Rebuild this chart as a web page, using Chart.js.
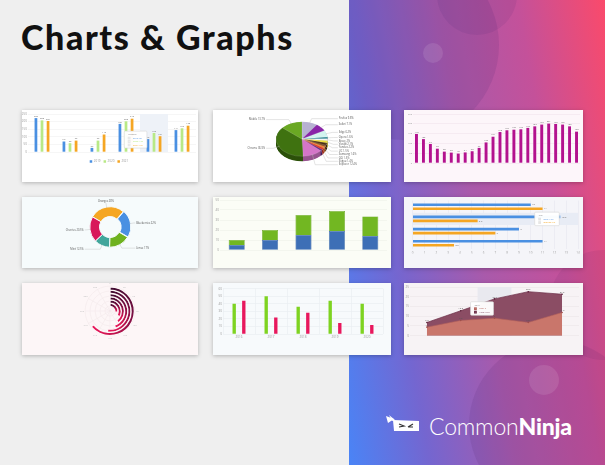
<!DOCTYPE html>
<html>
<head>
<meta charset="utf-8">
<title>Charts &amp; Graphs</title>
<script src="https://cdn.jsdelivr.net/npm/chart.js@4.4.1/dist/chart.umd.min.js"></script>
<style>
    html, body { margin: 0; padding: 0; }
    body { position: relative; width: 605px; height: 465px; overflow: hidden; background: #efefef; }
    #bgRight { position: absolute; left: 349px; top: 0; width: 256px; height: 465px; overflow: hidden;
        background: linear-gradient(80deg, #4a84f6 0%, #7466d0 24%, #a95aab 50%, #c4519a 74%, #fa4a6b 100%); }
    .blob { position: absolute; border-radius: 50%; }
    #title { position: absolute; left: 21px; top: 20px; font: 900 34px Lato, sans-serif; letter-spacing: 1.6px; line-height: 1; color: #111; white-space: nowrap; }
    .card { position: absolute; box-shadow: 0 1px 4px rgba(0, 0, 0, 0.25); }
    .card canvas { position: absolute; left: 0; top: 0; }
    #logo { position: absolute; left: 429px; top: 415px; font: 300 23px Lato, sans-serif; letter-spacing: -0.2px; line-height: 1; color: #fff; white-space: nowrap; }
    #logo b { font-weight: 900; }
    #ninja { position: absolute; left: 386px; top: 415px; }
</style>
</head>
<body>
<div id="bgRight">
    <div class="blob" style="left:-40px;top:-50px;width:190px;height:190px;background:rgba(40,20,100,0.10)"></div>
    <div class="blob" style="left:88px;top:-45px;width:80px;height:80px;background:rgba(40,20,100,0.08)"></div>
    <div class="blob" style="left:74px;top:43px;width:20px;height:20px;background:rgba(255,255,255,0.10)"></div>
    <div class="blob" style="left:120px;top:340px;width:170px;height:170px;background:rgba(60,20,90,0.10)"></div>
    <div class="blob" style="left:180px;top:365px;width:30px;height:30px;background:rgba(255,255,255,0.10)"></div>
    <div class="blob" style="left:200px;top:250px;width:110px;height:110px;background:rgba(60,20,90,0.08)"></div>
</div>
<div id="title">Charts &amp; Graphs</div>
<svg id="ninja" width="34" height="17" viewBox="0 0 34 17">
    <polygon points="0,1 8,4 2,8" fill="#fff"/>
    <polygon points="3,0 9,5 6,6" fill="#fff"/>
    <polygon points="7,5 33,6 33,16 8,16" fill="#fff"/>
    <path d="M13 9 L18 11 L13 12 M22 12 L27 9 M22 12 L27 12" stroke="#333" stroke-width="1.2" fill="none"/>
</svg>
<div id="logo">Common<b>Ninja</b></div>
<script>
//---------
//Data
//---------

//Grouped bars - devices by year
const devLabels = ["Desktop", "Tablet", "Smart TV", "Phone", "Console", "Laptop"];
const devSeries = ["2019", "2020", "2021"];
const dev2019 = [223, 69, 27, 185, 85, 144];
const dev2020 = [208, 58, 75, 202, 125, 156];
const dev2021 = [204, 75, 115, 219, 104, 173];
const devTicks = [0, 50, 100, 150, 200, 250];

//3D pie - browser share
const shareNames = ["Firefox", "Safari", "Edge", "Opera", "Brave", "Vivaldi", "Yandex", "UC", "Samsung", "QQ", "Sogou", "Explorer", "Chrome", "Mobile"];
const shareValues = [9.8, 7.1, 6.2, 1.6, 2.0, 2.1, 2.2, 1.5, 1.6, 1.5, 1.4, 12.4, 36.9, 13.7];
const shareColors = ["#b7b1d2", "#8a24a8", "#d3f4ef", "#2e8c9a", "#f4f4f4", "#efe03a", "#4a2e12", "#8b4a1a", "#f0802a", "#e02a20", "#5c2a86", "#d475c8", "#3f7210", "#6aa823"];

//Magenta bars - yearly values
const yearLabels = ["1996", "1997", "1998", "1999", "2000", "2001", "2002", "2003", "2004", "2005", "2006", "2007",
    "2008", "2009", "2010", "2011", "2012", "2013", "2014", "2015", "2016", "2017", "2018", "2019"];
const yearValues = [148, 122, 97, 73, 58, 53, 48, 54, 60, 77, 105, 134, 158, 167, 170, 172, 179, 187, 196, 201, 199, 196, 187, 160];
const yearTicks = [0, 50, 100, 150, 200, 250];

//Doughnut - fruit
const fruitNames = ["Oranges", "Blueberries", "Limes", "Mint", "Cherries"];
const fruitValues = [28, 22, 17, 12.5, 20.5];
const fruitColors = ["#f5a623", "#4a90e2", "#6fb21f", "#41a59b", "#d8185a"];

//Stacked bars
const stackLabels = ["2016", "2017", "2018", "2019", "2020"];
const stackBlue = [5, 10, 15, 19, 14];
const stackGreen = [5, 10, 20, 20, 19.5];
const stackTicks = [0, 10, 20, 30, 40, 50];

//Horizontal bars
const dayLabels = ["Mon", "Tue", "Wed", "Thu"];
const dayBlue = [10, 12.5, 9, 11];
const dayOrange = [11, 5.5, 7, 3.5];
const dayTicks = [0, 1, 2, 3, 4, 5, 6, 7, 8, 9, 10, 11, 12, 13, 14];

//Radial bars
const ringLabels = ["Team A", "Team B", "Team C", "Team D", "Team E", "Team F"];
const ringValues = [64, 52, 45, 40, 33, 27];
const ringMax = 100;
const ringAxis = ["0", "30", "60", "90", "120", "150", "180", "210", "240", "270", "300", "330"];

//Bar pairs
const pairLabels = ["2016", "2017", "2018", "2019", "2020"];
const pairGreen = [40, 50, 36, 44, 40];
const pairRed = [44, 22, 28, 14.5, 12];
const pairTicks = [0, 10, 20, 30, 40, 50, 60];

//Areas
const areaLabels = ["2016", "2017", "2018", "2019", "2020"];
const areaTop = [6.8, 12.8, 18.9, 22.6, 21.3];
const areaBottom = [4.4, 7.8, 9.0, 6.8, 11.9];
const areaTicks = [0, 5, 10, 15, 20, 25];

//---------
//Helpers
//---------

//Card with canvas
const makeCard = (x, y, w, h, bg) => {
    const card = document.createElement("div");
    card.className = "card";
    card.style.cssText = `left:${x}px;top:${y}px;width:${w}px;height:${h}px;background:${bg}`;
    const cnv = document.createElement("canvas");
    cnv.width = w;
    cnv.height = h;
    card.appendChild(cnv);
    document.body.appendChild(card);
    return cnv;
};

//Extra canvas in the same card
const addLayer = cnv => {
    const c = document.createElement("canvas");
    c.width = cnv.width;
    c.height = cnv.height;
    cnv.parentNode.insertBefore(c, cnv);
    return c;
};

//Fixed axis size
const fixSize = size => scale => {
    if (scale.isHorizontal()) scale.height = size;
    else scale.width = size;
};

//Fixed ticks
const fixTicks = list => scale => {
    scale.ticks = list.map(v => ({ value: v }));
};

//Darker colour
const shade = (hex, f) => {
    const n = parseInt(hex.slice(1), 16);
    return `rgb(${(((n >> 16) & 255) * f) | 0},${(((n >> 8) & 255) * f) | 0},${((n & 255) * f) | 0})`;
};

//Grid look
const gridStyle = color => ({ color, lineWidth: 0.6, drawTicks: false });

//Tooltip look
const tipStyle = {
    enabled: true,
    position: "beside",
    xAlign: "right",
    yAlign: "center",
    backgroundColor: "rgba(255,255,255,0.97)",
    borderColor: "#d5d5d5",
    borderWidth: 0.6,
    titleColor: "#888",
    bodyColor: "#777",
    titleFont: { size: 2.2, weight: "normal" },
    bodyFont: { size: 2.2 },
    padding: { x: 4, y: 1.8 },
    caretSize: 0,
    caretPadding: 0,
    cornerRadius: 1,
    boxWidth: 1.8,
    boxHeight: 1.8,
    boxPadding: 1,
    bodySpacing: 0.8,
    titleMarginBottom: 1.2,
    callbacks: { labelTextColor: item => item.dataset.backgroundColor }
};

//Tooltip beside the hovered column
Chart.Tooltip.positioners.beside = function (items) {
    if (!items.length) return false;
    const y = items.reduce((s, it) => s + it.element.y, 0) / items.length;
    return { x: items[0].element.x - 1, y };
};
Chart.Tooltip.positioners.besideLow = function (items) {
    const p = Chart.Tooltip.positioners.beside.call(this, items);
    return p && { x: p.x, y: p.y + 3.5 };
};

//Show tooltip for one category
const showTip = (chart, index) => {
    chart.tooltip.setActiveElements(chart.data.datasets.map((d, i) => ({ datasetIndex: i, index })), { x: 0, y: 0 });
    chart.update();
};

//---------
//Plugins
//---------

//Hover band behind a category
const bandPlugin = {
    id: "band",
    beforeDatasetsDraw(chart, args, opts) {
        if (opts.index == null) return;
        const ca = chart.chartArea;
        const ctx = chart.ctx;
        const horiz = opts.axis === "y";
        const scale = horiz ? chart.scales.y : chart.scales.x;
        const n = chart.data.labels.length;
        const c = scale.getPixelForValue(opts.index);
        ctx.save();
        ctx.fillStyle = opts.color;
        if (horiz) {
            const half = ca.height / n / 2;
            ctx.fillRect(ca.left, c - half, ca.width, half * 2);
        } else {
            const half = ca.width / n / 2;
            ctx.fillRect(c - half, ca.top, half * 2, ca.height);
        }
        ctx.restore();
    }
};

//Values next to marks
const valueLabelsPlugin = {
    id: "valueLabels",
    afterDatasetsDraw(chart, args, opts) {
        if (!opts.display) return;
        const ctx = chart.ctx;
        ctx.save();
        ctx.font = `${opts.size}px "Open Sans"`;
        ctx.fillStyle = opts.color;
        chart.data.datasets.forEach((ds, di) => {
            chart.getDatasetMeta(di).data.forEach((el, i) => {
                const v = ds.data[i];
                if (opts.horizontal) {
                    ctx.textAlign = "left";
                    ctx.textBaseline = "middle";
                    ctx.fillText(v, el.x + 1.2, el.y);
                } else {
                    ctx.textAlign = "center";
                    ctx.textBaseline = "bottom";
                    ctx.fillText(v, el.x, el.y - 0.8);
                }
            });
        });
        ctx.restore();
    }
};

//Flattened pie with depth
const tiltPlugin = {
    id: "tilt",
    beforeDatasetsDraw(chart, args, opts) {
        const meta = chart.getDatasetMeta(0);
        const ctx = chart.ctx;
        const cy = meta.data[0].y;
        const sq = opts.squash;
        const colors = chart.data.datasets[0].backgroundColor;
        ctx.save();
        ctx.translate(0, cy);
        ctx.scale(1, sq);
        ctx.translate(0, -cy);
        for (let k = opts.depth; k > 0; k -= 0.5) {
            meta.data.forEach((el, i) => {
                ctx.beginPath();
                ctx.moveTo(el.x, el.y + k / sq);
                ctx.arc(el.x, el.y + k / sq, el.outerRadius, el.startAngle, el.endAngle);
                ctx.closePath();
                ctx.fillStyle = shade(colors[i], 0.72);
                ctx.fill();
            });
        }
    },
    afterDatasetsDraw(chart) {
        chart.ctx.restore();
    }
};

//Slice labels with leader lines
const sliceLabelsPlugin = {
    id: "sliceLabels",
    afterDraw(chart, args, opts) {
        const meta = chart.getDatasetMeta(0);
        const ds = chart.data.datasets[0];
        const sq = opts.squash || 1;
        const ctx = chart.ctx;
        const items = meta.data.map((el, i) => {
            const a = (el.startAngle + el.endAngle) / 2;
            const r = el.outerRadius;
            const cos = Math.cos(a);
            const sin = Math.sin(a);
            return {
                text: `${chart.data.labels[i]} ${ds.data[i]}%`,
                cx: el.x, r, right: cos >= 0,
                top: opts.topLabels && Math.abs(cos) < 0.3,
                px: el.x + cos * (r - 1), py: el.y + sin * (r - 1) * sq,
                ex: el.x + cos * (r + opts.lineLen), ey: el.y + sin * (r + opts.lineLen) * sq
            };
        });
        [true, false].forEach(side => {
            const list = items.filter(o => o.right === side && !o.top).sort((a, b) => a.ey - b.ey);
            for (let k = 1; k < list.length; k++)
                if (list[k].ey - list[k - 1].ey < opts.gap) list[k].ey = list[k - 1].ey + opts.gap;
        });
        ctx.save();
        ctx.font = `${opts.size}px "Open Sans"`;
        ctx.lineWidth = 0.4;
        items.forEach(o => {
            ctx.strokeStyle = opts.lineColor;
            ctx.fillStyle = opts.color;
            ctx.beginPath();
            ctx.moveTo(o.px, o.py);
            ctx.lineTo(o.ex, o.ey);
            if (o.top) {
                ctx.stroke();
                ctx.textAlign = "center";
                ctx.textBaseline = o.ey < o.py ? "bottom" : "top";
                ctx.fillText(o.text, o.ex, o.ey + (o.ey < o.py ? -0.5 : 0.5));
                return;
            }
            const tx = o.right ? Math.max(o.ex, o.cx + o.r + opts.textOffset) : Math.min(o.ex, o.cx - o.r - opts.textOffset);
            ctx.lineTo(tx, o.ey);
            ctx.stroke();
            ctx.textBaseline = "middle";
            ctx.textAlign = o.right ? "left" : "right";
            ctx.fillText(o.text, tx + (o.right ? 1 : -1), o.ey);
        });
        ctx.restore();
    }
};

//---------
//Defaults
//---------

Chart.defaults.font.family = "'Open Sans', sans-serif";
Chart.defaults.font.size = 3;
Chart.defaults.color = "#9a9a9a";
Chart.defaults.animation = false;
Chart.defaults.responsive = false;
Chart.defaults.devicePixelRatio = 1;
Chart.defaults.events = [];
Chart.defaults.plugins.legend.display = false;
Chart.defaults.plugins.tooltip.enabled = false;

//---------
//Charts
//---------

//Grouped bars
const devChart = new Chart(makeCard(22, 110, 176, 72, "#ffffff"), {
    type: "bar",
    data: {
        labels: devLabels,
        datasets: [
            { label: devSeries[0], data: dev2019, backgroundColor: "#4a90e2" },
            { label: devSeries[1], data: dev2020, backgroundColor: "#b8e986" },
            { label: devSeries[2], data: dev2021, backgroundColor: "#f5a623" }
        ]
    },
    options: {
        layout: { padding: { left: 0, right: 2, top: 4, bottom: 9 } },
        datasets: { bar: { categoryPercentage: 0.65, barPercentage: 0.45 } },
        scales: {
            x: { grid: { display: false }, border: { display: false }, ticks: { padding: 1 }, afterFit: fixSize(5) },
            y: { min: 0, max: 250, afterBuildTicks: fixTicks(devTicks), grid: gridStyle("#f0f0f0"), border: { display: false }, ticks: { padding: 1 }, afterFit: fixSize(6) }
        },
        plugins: {
            legend: { display: true, position: "bottom", labels: { boxWidth: 2.5, boxHeight: 2.5, padding: 3, font: { size: 3 } } },
            tooltip: { ...tipStyle, position: "besideLow" },
            valueLabels: { display: true, size: 2.4, color: "#666" },
            band: { index: 4, color: "#eef2f8" }
        }
    },
    plugins: [bandPlugin, valueLabelsPlugin]
});
showTip(devChart, 4);

//3D pie
new Chart(makeCard(213, 110, 178, 72, "#ffffff"), {
    type: "pie",
    data: { labels: shareNames, datasets: [{ data: shareValues, backgroundColor: shareColors, borderWidth: 0.3, borderColor: "rgba(255,255,255,0.5)" }] },
    options: {
        layout: { padding: { left: 63, right: 63, top: 3, bottom: 17 } },
        plugins: {
            tilt: { squash: 0.67, depth: 5 },
            sliceLabels: { squash: 0.67, lineLen: 6, textOffset: 10, gap: 3.4, size: 2.6, color: "#555", lineColor: "#bbb" }
        }
    },
    plugins: [tiltPlugin, sliceLabelsPlugin]
});

//Magenta bars
new Chart(makeCard(404, 110, 179, 72, "#fdf6fa"), {
    type: "bar",
    data: { labels: yearLabels, datasets: [{ data: yearValues, backgroundColor: "#b3128e" }] },
    options: {
        layout: { padding: { left: 0, right: 3, top: 4, bottom: 14 } },
        datasets: { bar: { categoryPercentage: 1, barPercentage: 0.42 } },
        scales: {
            x: { grid: { display: false }, border: { display: false }, ticks: { padding: 1, autoSkip: false, maxRotation: 0, font: { size: 2.2 } }, afterFit: fixSize(5) },
            y: { min: 0, max: 250, afterBuildTicks: fixTicks(yearTicks), grid: gridStyle("#f1e4ec"), border: { display: false }, ticks: { padding: 1, font: { size: 2.4 } }, afterFit: fixSize(9) }
        },
        plugins: { valueLabels: { display: true, size: 2.3, color: "#666" } }
    },
    plugins: [valueLabelsPlugin]
});

//Doughnut
new Chart(makeCard(22, 197, 176, 71, "#f6fbfc"), {
    type: "doughnut",
    data: { labels: fruitNames, datasets: [{ data: fruitValues, backgroundColor: fruitColors, borderColor: "#f6fbfc", borderWidth: 1, offset: [0, 2.5, 0, 0, 0] }] },
    options: {
        rotation: -60,
        cutout: "52%",
        layout: { padding: { left: 66, right: 66, top: 8, bottom: 19 } },
        plugins: { sliceLabels: { squash: 1, topLabels: true, lineLen: 4, textOffset: 5, gap: 4, size: 2.6, color: "#555", lineColor: "#bbb" } }
    },
    plugins: [sliceLabelsPlugin]
});

//Stacked bars
new Chart(makeCard(213, 197, 178, 71, "#fbfdf6"), {
    type: "bar",
    data: {
        labels: stackLabels,
        datasets: [
            { data: stackBlue, backgroundColor: "#3d6fb6", borderColor: "#2b5a9e", borderWidth: 0.6 },
            { data: stackGreen, backgroundColor: "#72b722", borderColor: "#5d9e14", borderWidth: 0.6 }
        ]
    },
    options: {
        layout: { padding: { left: 0, right: 4, top: 3, bottom: 14 } },
        datasets: { bar: { categoryPercentage: 1, barPercentage: 0.48 } },
        scales: {
            x: { stacked: true, grid: { display: false }, border: { display: false }, ticks: { padding: 1 }, afterFit: fixSize(4) },
            y: { stacked: true, min: 0, max: 50, afterBuildTicks: fixTicks(stackTicks), grid: gridStyle("#eef1ea"), border: { display: false }, ticks: { padding: 1 }, afterFit: fixSize(7) }
        }
    }
});

//Horizontal bars
const dayChart = new Chart(makeCard(404, 197, 179, 71, "#f5f5f9"), {
    type: "bar",
    data: {
        labels: dayLabels,
        datasets: [
            { label: "Blue", data: dayBlue, backgroundColor: "#4a90e2" },
            { label: "Orange", data: dayOrange, backgroundColor: "#f5a623" }
        ]
    },
    options: {
        indexAxis: "y",
        layout: { padding: { left: 0, right: 5, top: 3.6, bottom: 14.6 } },
        datasets: { bar: { categoryPercentage: 0.66, barPercentage: 0.65 } },
        scales: {
            x: { min: 0, max: 14, afterBuildTicks: fixTicks(dayTicks), grid: gridStyle("#e6e6ee"), border: { display: false }, ticks: { padding: 1.5 }, afterFit: fixSize(4) },
            y: { grid: { display: false }, border: { display: false }, ticks: { padding: 1 }, afterFit: fixSize(8.7) }
        },
        plugins: {
            tooltip: tipStyle,
            valueLabels: { display: true, horizontal: true, size: 2.5, color: "#666" },
            band: { index: 1, axis: "y", color: "#e8ecf5" }
        }
    },
    plugins: [bandPlugin, valueLabelsPlugin]
});
showTip(dayChart, 1);

//Radial bars with polar grid behind
const ringCanvas = makeCard(22, 283, 176, 72, "#fdf6f7");
new Chart(addLayer(ringCanvas), {
    type: "radar",
    data: { labels: ringAxis, datasets: [] },
    options: {
        layout: { padding: { left: 58, right: 58, top: 0, bottom: 14 } },
        scales: {
            r: {
                min: 0, max: ringMax,
                ticks: { display: false, stepSize: 20 },
                grid: { color: "#f0e6e8", lineWidth: 0.5, circular: true },
                angleLines: { color: "#f0e6e8", lineWidth: 0.5 },
                pointLabels: { font: { size: 2.4 }, color: "#c4c4c4", padding: 1 }
            }
        }
    }
});
const ringFill = ctx => {
    if (ctx.dataIndex === 1) return "rgba(0,0,0,0)";
    const ca = ctx.chart.chartArea;
    if (!ca) return "#b01045";
    const f = ringValues[ctx.datasetIndex] / ringMax;
    const g = ctx.chart.ctx.createConicGradient(-Math.PI / 2, (ca.left + ca.right) / 2, (ca.top + ca.bottom) / 2);
    g.addColorStop(0, "#3d0c30");
    g.addColorStop(f * 0.45, "#7e0f44");
    g.addColorStop(f * 0.8, "#cf1551");
    g.addColorStop(f, "#ec1a5e");
    g.addColorStop(1, "#ec1a5e");
    return g;
};
new Chart(ringCanvas, {
    type: "doughnut",
    data: {
        labels: ["Value", "Rest"],
        datasets: ringValues.map((v, i) => ({
            label: ringLabels[i],
            data: [v, ringMax - v],
            backgroundColor: ringFill,
            borderColor: ["#fdf6f7", "rgba(0,0,0,0)"],
            borderWidth: 1.3
        }))
    },
    options: {
        cutout: "20%",
        layout: { padding: { left: 63, right: 63, top: 3.3, bottom: 18.7 } }
    }
});

//Bar pairs
new Chart(makeCard(213, 283, 178, 72, "#f7fafc"), {
    type: "bar",
    data: {
        labels: pairLabels,
        datasets: [
            { data: pairGreen, backgroundColor: "#7ed321" },
            { data: pairRed, backgroundColor: "#e8175d" }
        ]
    },
    options: {
        layout: { padding: { left: 0, right: 8, top: 5.7, bottom: 17 } },
        datasets: { bar: { categoryPercentage: 0.6, barPercentage: 0.35 } },
        scales: {
            x: { grid: { color: "#e8edf0", lineWidth: 0.6, drawTicks: false, offset: true }, border: { display: false }, ticks: { padding: 1 }, afterFit: fixSize(4) },
            y: { min: 0, max: 60, afterBuildTicks: fixTicks(pairTicks), grid: gridStyle("#e8edf0"), border: { display: false }, ticks: { padding: 1 }, afterFit: fixSize(10) }
        }
    }
});

//Areas
const areaChart = new Chart(makeCard(404, 283, 179, 72, "#f7f3f5"), {
    type: "line",
    data: {
        labels: areaLabels,
        datasets: [
            { label: "Low", data: areaBottom, fill: "origin", backgroundColor: "#c9766b", borderColor: "#b4625a", borderWidth: 0.6, pointRadius: 0.8, pointBackgroundColor: "#9e4f4a", pointBorderWidth: 0 },
            { label: "High", data: areaTop, fill: "origin", backgroundColor: "#8b4d64", borderColor: "#6a2d46", borderWidth: 0.7, pointRadius: 0.8, pointBackgroundColor: "#5a2038", pointBorderWidth: 0 }
        ]
    },
    options: {
        layout: { padding: { left: 0, right: 3, top: 3.7, bottom: 15.3 } },
        scales: {
            x: { offset: true, grid: { display: false }, border: { display: false }, ticks: { padding: 1 }, afterFit: fixSize(4) },
            y: { min: 0, max: 25, afterBuildTicks: fixTicks(areaTicks), grid: gridStyle("#ebe5e8"), border: { display: false }, ticks: { padding: 1 }, afterFit: fixSize(6) }
        },
        plugins: {
            tooltip: { ...tipStyle, callbacks: { labelTextColor: item => item.dataset.borderColor } },
            valueLabels: { display: true, size: 2.4, color: "#555" },
            band: { index: 2, color: "#e9e9ef" }
        }
    },
    plugins: [bandPlugin, valueLabelsPlugin]
});
showTip(areaChart, 2);
</script>
</body>
</html>
